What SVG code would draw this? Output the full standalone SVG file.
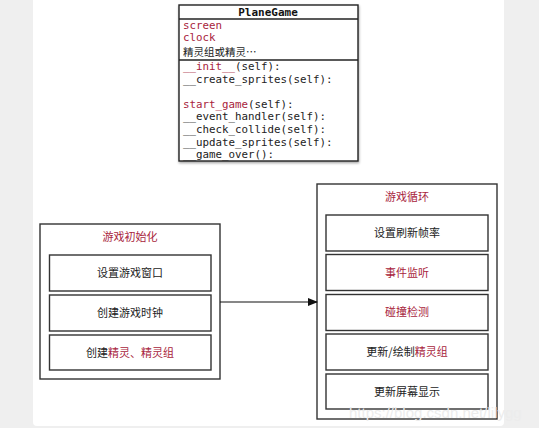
<svg xmlns="http://www.w3.org/2000/svg" width="539" height="428" viewBox="0 0 539 428">
<style>
.box{fill:#fff;stroke:#333;stroke-width:1.4}
.cjk{font-family:"Noto Sans CJK SC","Noto Sans",sans-serif;font-size:11px;fill:#222;text-anchor:middle}
.mono{font-family:"DejaVu Sans Mono","Liberation Mono",monospace;font-size:10.8px;fill:#222}
.red,.mono.red,.cjk.red,tspan.red{fill:#a8243c}
.wm{font-family:"Liberation Sans",sans-serif;font-size:15px;fill:#ececec}
</style>
<defs>
<marker id="arr" markerWidth="10" markerHeight="8" refX="9" refY="4" orient="auto" markerUnits="userSpaceOnUse">
<path d="M0,0 L10,4 L0,8 Z" fill="#111"/>
</marker>
<filter id="sh" x="-5%" y="-5%" width="110%" height="110%">
<feDropShadow dx="0.5" dy="1.5" stdDeviation="1" flood-color="#000" flood-opacity="0.35"/>
</filter>
</defs>
<rect x="0" y="0" width="539" height="428" fill="#efefef"/>
<rect x="33" y="-10" width="471" height="436" rx="4" fill="#fff"/>

<g id="PlaneGame">
<rect x="179" y="5" width="179" height="156" fill="#fff" stroke="#222" stroke-width="1.4" filter="url(#sh)"/>
<line x1="179" y1="19" x2="358" y2="19" stroke="#222" stroke-width="1.4"/>
<line x1="179" y1="60" x2="358" y2="60" stroke="#222" stroke-width="1.4"/>
<text x="268" y="16" text-anchor="middle" font-family="DejaVu Sans Mono, monospace" font-size="11" font-weight="bold" fill="#111">PlaneGame</text>
<text x="183" y="28.5" class="mono red">screen</text>
<text x="183" y="41" class="mono red">clock</text>
<text x="183" y="56" font-family="Noto Sans CJK SC, sans-serif" font-size="10.5" fill="#222">精灵组或精灵…</text>
<text x="183" y="70" class="mono"><tspan class="red">__init__</tspan>(self):</text>
<text x="183" y="83" class="mono">__create_sprites(self):</text>
<text x="183" y="108" class="mono"><tspan class="red">start_game</tspan>(self):</text>
<text x="183" y="120" class="mono">__event_handler(self):</text>
<text x="183" y="133" class="mono">__check_collide(self):</text>
<text x="183" y="146" class="mono">__update_sprites(self):</text>
<text x="183" y="158" class="mono">__game_over():</text>
</g>

<g id="init">
<rect class="box" x="40" y="224" width="180" height="155"/>
<text x="130" y="241" class="cjk red">游戏初始化</text>
</g>
<g id="init1">
<rect class="box" x="49.5" y="255" width="161.5" height="36"/>
<text x="130" y="277" class="cjk">设置游戏窗口</text>
</g>
<g id="init2">
<rect class="box" x="49.5" y="295" width="161.5" height="36"/>
<text x="130" y="317" class="cjk">创建游戏时钟</text>
</g>
<g id="init3">
<rect class="box" x="49.5" y="335" width="161.5" height="35"/>
<text x="130" y="357" class="cjk">创建<tspan class="red">精灵、精灵组</tspan></text>
</g>

<g id="loop">
<rect class="box" x="317" y="184" width="180" height="235"/>
<text x="407" y="201" class="cjk red">游戏循环</text>
</g>
<g id="loop1">
<rect class="box" x="326" y="215" width="162" height="36"/>
<text x="407" y="237" class="cjk">设置刷新帧率</text>
</g>
<g id="loop2">
<rect class="box" x="326" y="254.5" width="162" height="36"/>
<text x="407" y="277" class="cjk red">事件监听</text>
</g>
<g id="loop3">
<rect class="box" x="326" y="294.5" width="162" height="36"/>
<text x="407" y="316" class="cjk red">碰撞检测</text>
</g>
<g id="loop4">
<rect class="box" x="326" y="334" width="162" height="36"/>
<text x="407" y="356" class="cjk">更新/绘制<tspan class="red">精灵组</tspan></text>
</g>
<g id="loop5">
<rect class="box" x="326" y="374" width="162" height="35"/>
<text x="407" y="396" class="cjk">更新屏幕显示</text>
</g>

<g id="connectors">
<line x1="220" y1="302" x2="317" y2="302" stroke="#111" stroke-width="1.2" marker-end="url(#arr)"/>
</g>
<text x="349" y="418" class="wm">https://blog.csdn.net/lilygg</text>
</svg>
